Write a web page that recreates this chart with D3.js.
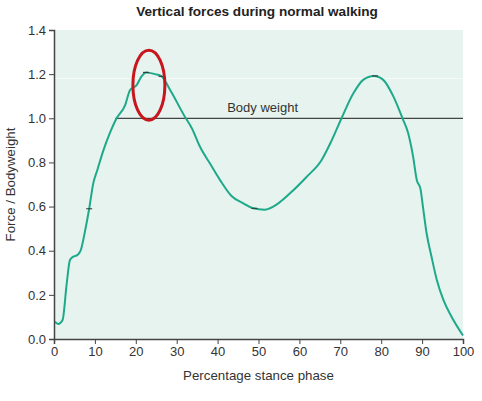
<!DOCTYPE html>
<html>
<head>
<meta charset="utf-8">
<script src="https://cdn.jsdelivr.net/npm/d3@7"></script>
<style>
  body { margin: 0; background: #fff; }
  text { font-family: "Liberation Sans", Arial, sans-serif; }
</style>
</head>
<body>
<svg id="chart"></svg>
<script>
// stance phase (%) and vertical force (x body weight)
const stance = [0.2, 1.05, 2.1, 3.1, 3.9, 4.7, 5.7, 6.5, 7.6, 8.6, 9.6, 10.6, 12.1, 13.6, 15.3, 17.4, 18.6, 20.2, 21.4, 22.5, 24.7, 26.3, 28.4, 32, 33.7, 35.7, 38.1, 40.6, 43.4, 46.3, 48.7, 51.5, 53.6, 57.7, 61.8, 65.4, 67.9, 70.3, 73.2, 75.6, 78.2, 80.5, 83, 85.2, 86.6, 87.8, 88.7, 89.6, 90.2, 91.1, 92.3, 93.6, 95.2, 97.2, 100];
const force = [0.078, 0.068, 0.086, 0.25, 0.358, 0.373, 0.38, 0.40, 0.49, 0.59, 0.705, 0.766, 0.856, 0.93, 1.0, 1.06, 1.128, 1.15, 1.19, 1.208, 1.2, 1.19, 1.128, 1.007, 0.955, 0.871, 0.796, 0.72, 0.648, 0.615, 0.592, 0.586, 0.6, 0.66, 0.735, 0.81, 0.9, 1.0, 1.113, 1.174, 1.192, 1.174, 1.098, 1.0, 0.932, 0.826, 0.72, 0.68, 0.6, 0.479, 0.373, 0.267, 0.177, 0.101, 0.016];

// little dark dashes sitting on the curve
const markX = [8.6, 22.5, 26.3, 49, 78.5];
const markY = [0.59, 1.208, 1.19, 0.592, 1.192];

const xTicks = [0, 10, 20, 30, 40, 50, 60, 70, 80, 90, 100];
const yTicks = [0, 0.2, 0.4, 0.6, 0.8, 1.0, 1.2, 1.4];
const bodyWeight = 1.0;
const bodyWeightStart = 15;
const faintGrid = 1.18;
const highlight = [23.2, 1.15]; // centre of the red ellipse

const width = 482, height = 401;
const margin = { top: 30, right: 19, bottom: 62, left: 54 };

const svg = d3.select("#chart").attr("width", width).attr("height", height);

const x = d3.scaleLinear().domain([0, 100]).range([margin.left, width - margin.right]);
const y = d3.scaleLinear().domain([0, 1.4]).range([height - margin.bottom, margin.top]);

// plot background
svg.append("rect")
  .attr("x", x(0))
  .attr("y", y(1.4))
  .attr("width", x(100) - x(0))
  .attr("height", y(0) - y(1.4))
  .attr("fill", "#e6f3ee");

svg.append("line")
  .attr("x1", x(0))
  .attr("x2", x(100))
  .attr("y1", y(faintGrid))
  .attr("y2", y(faintGrid))
  .attr("stroke", "#f4faf7")
  .attr("stroke-width", 1);

// body weight line
svg.append("line")
  .attr("x1", x(bodyWeightStart))
  .attr("x2", x(100))
  .attr("y1", y(bodyWeight))
  .attr("y2", y(bodyWeight))
  .attr("stroke", "#444")
  .attr("stroke-width", 1.2);

svg.append("text")
  .attr("x", x(51))
  .attr("y", y(bodyWeight) - 6)
  .attr("text-anchor", "middle")
  .attr("font-size", 13)
  .attr("fill", "#333")
  .text("Body weight");

// force curve
const points = stance.map((s, i) => [s, force[i]]);
const line = d3.line()
  .x((d) => x(d[0]))
  .y((d) => y(d[1]))
  .curve(d3.curveMonotoneX);

svg.append("path")
  .datum(points)
  .attr("d", line)
  .attr("fill", "none")
  .attr("stroke", "#1fa98b")
  .attr("stroke-width", 2);

svg.selectAll(".mark")
  .data(markX)
  .enter()
  .append("line")
  .attr("class", "mark")
  .attr("x1", (d) => x(d) - 3)
  .attr("x2", (d) => x(d) + 3)
  .attr("y1", (d, i) => y(markY[i]))
  .attr("y2", (d, i) => y(markY[i]))
  .attr("stroke", "#333")
  .attr("stroke-width", 1);

// axes
const xAxis = svg.append("g")
  .attr("transform", "translate(0," + y(0) + ")")
  .call(d3.axisBottom(x).tickValues(xTicks).tickSize(5).tickPadding(3));

const yAxis = svg.append("g")
  .attr("transform", "translate(" + x(0) + ",0)")
  .call(d3.axisLeft(y).tickValues(yTicks).tickSize(5).tickPadding(3).tickFormat(d3.format(".1f")));

[xAxis, yAxis].forEach((g) => {
  g.select(".domain").attr("stroke", "#444").attr("stroke-width", 1.5);
  g.selectAll(".tick line").attr("stroke", "#444");
  g.selectAll(".tick text")
    .attr("fill", "#333")
    .attr("font-size", 13)
    .attr("font-family", "'Liberation Sans', Arial, sans-serif");
});

// red highlight ellipse
svg.append("ellipse")
  .attr("cx", x(highlight[0]))
  .attr("cy", y(highlight[1]))
  .attr("rx", 16)
  .attr("ry", 35)
  .attr("fill", "none")
  .attr("stroke", "#c8161d")
  .attr("stroke-width", 3);

// title and axis labels
svg.append("text")
  .attr("x", 257)
  .attr("y", 16)
  .attr("text-anchor", "middle")
  .attr("font-size", 13.6)
  .attr("font-weight", "bold")
  .attr("fill", "#222")
  .text("Vertical forces during normal walking");

svg.append("text")
  .attr("x", x(50))
  .attr("y", 380)
  .attr("text-anchor", "middle")
  .attr("font-size", 13.3)
  .attr("fill", "#333")
  .text("Percentage stance phase");

svg.append("text")
  .attr("transform", "translate(15," + y(0.7) + ") rotate(-90)")
  .attr("text-anchor", "middle")
  .attr("font-size", 13.3)
  .attr("fill", "#333")
  .text("Force / Bodyweight");
</script>
</body>
</html>
